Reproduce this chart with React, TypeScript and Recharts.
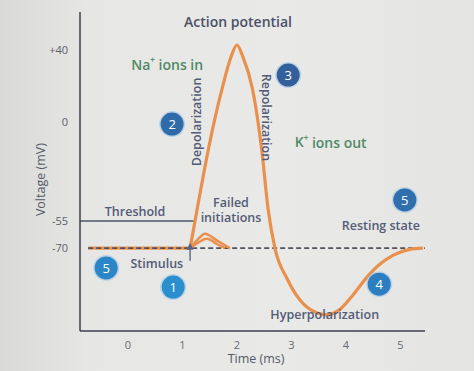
import { LineChart, Line, XAxis, YAxis, ReferenceDot } from "recharts";

// membrane voltage (mV) over time (ms)
const restTimes = [-0.73, 1.14];
const restVolts = [-70, -70];

const spikeTimes = [1.14, 1.32, 1.47, 1.74, 1.89, 2.0, 2.11, 2.28, 2.46, 2.57, 2.7, 2.92, 3.16, 3.47, 3.65, 3.89, 4.13, 4.39, 4.62, 4.86, 5.17, 5.41];
const spikeVolts = [-70, -40, -16, 20, 36, 42.7, 36, 19, -17, -48, -70.5, -87, -99, -106, -107, -104, -96, -86, -79, -74, -70.7, -70];

const failOuterTimes = [1.14, 1.27, 1.41, 1.65, 1.87];
const failOuterVolts = [-70, -65.6, -62, -66.2, -70];
const failInnerTimes = [1.14, 1.27, 1.45, 1.63, 1.78];
const failInnerVolts = [-70, -67.3, -64.8, -67.7, -70];

const thresholdTimes = [-0.88, 1.23];
const thresholdVolts = [-55, -55];

const restingTimes = [-0.73, 5.45];
const restingVolts = [-70, -70];

const xTicks = [0, 1, 2, 3, 4, 5];
const yTicks = [40, 0, -55, -70];
const yTickLabels = ["+40", "0", "-55", "-70"];

const zip = (ts: number[], vs: number[]) => ts.map((t, i) => ({ t, v: vs[i] }));

type Note = { text: string; t: number; v: number; kind: string; sup?: string; after?: string };
const notes: Note[] = [
  { text: "Action potential", t: 2.02, v: 55.5, kind: "title" },
  { text: "Na", sup: "+", after: " ions in", t: 0.72, v: 32, kind: "ion" },
  { text: "K", sup: "+", after: " ions out", t: 3.72, v: -11, kind: "ion" },
  { text: "Depolarization", t: 1.25, v: 0, kind: "up" },
  { text: "Repolarization", t: 2.55, v: 2.5, kind: "down" },
  { text: "Threshold", t: 0.13, v: -49.5, kind: "label" },
  { text: "Failed", t: 1.89, v: -44.5, kind: "label" },
  { text: "initiations", t: 1.89, v: -53, kind: "label" },
  { text: "Resting state", t: 4.64, v: -57.5, kind: "label" },
  { text: "Stimulus", t: 0.53, v: -78.5, kind: "label" },
  { text: "Hyperpolarization", t: 3.61, v: -106.6, kind: "label" },
  { text: "Voltage (mV)", t: -1.61, v: -32, kind: "axisY" },
  { text: "Time (ms)", t: 2.35, v: -131.5, kind: "axisX" },
];

const steps = [
  { n: "2", t: 0.81, v: -1.2, fill: "#2f6aa9" },
  { n: "3", t: 2.94, v: 26, fill: "#33609b" },
  { n: "5", t: -0.4, v: -81, fill: "#2a86c7" },
  { n: "1", t: 0.83, v: -91.6, fill: "#2b8ecf" },
  { n: "5", t: 5.08, v: -43.3, fill: "#2f6fae" },
  { n: "4", t: 4.61, v: -90, fill: "#2c7ec0" },
];

const ORANGE = "#e8904c";
const SLATE = "#535b77";
const GREEN = "#4f8a68";
const FONT = "'Open Sans', sans-serif";

function NoteShape(note: Note) {
  return (props: any) => {
    const { cx, cy } = props;
    let fill = SLATE;
    let size = 12.5;
    let weight = 600;
    let transform: string | undefined;
    if (note.kind === "title") { fill = "#4a5068"; size = 14; }
    if (note.kind === "ion") { fill = GREEN; size = 14; }
    if (note.kind === "up") transform = `rotate(-90 ${cx} ${cy})`;
    if (note.kind === "down") transform = `rotate(90 ${cx} ${cy})`;
    if (note.kind === "axisY") { fill = "#555a66"; size = 12.5; weight = 400; transform = `rotate(-90 ${cx} ${cy})`; }
    if (note.kind === "axisX") { fill = "#555a66"; size = 12.5; weight = 400; }
    return (
      <text x={cx} y={cy} textAnchor="middle" dominantBaseline="central" fill={fill}
        fontSize={size} fontWeight={weight} fontFamily={FONT} transform={transform}>
        {note.text}
        {note.sup && <tspan fontSize={8} dy={-5}>{note.sup}</tspan>}
        {note.after && <tspan dy={note.sup ? 5 : 0}>{note.after}</tspan>}
      </text>
    );
  };
}

function StepShape(fill: string, n: string) {
  return (props: any) => {
    const { cx, cy } = props;
    return (
      <g>
        <circle cx={cx} cy={cy} r={13} fill="#9ec4e2" opacity={0.6} />
        <circle cx={cx} cy={cy} r={11.5} fill={fill} />
        <text x={cx} y={cy} textAnchor="middle" dominantBaseline="central" fill="#ffffff"
          fontSize={13} fontFamily={FONT}>{n}</text>
      </g>
    );
  };
}

function ArrowShape(props: any) {
  const { cx, cy } = props;
  return (
    <g stroke="#5a6485" fill="#5a6485">
      <line x1={cx} y1={cy} x2={cx} y2={cy - 14} strokeWidth={1.4} />
      <path d={`M${cx - 3.5} ${cy - 11} L${cx} ${cy - 18} L${cx + 3.5} ${cy - 11} Z`} stroke="none" />
    </g>
  );
}

export default function App() {
  return (
    <div style={{
      position: "fixed", left: 0, top: 0, width: 474, height: 371,
      background: "linear-gradient(90deg, #d9d9d7 0%, #e6e6e4 18%, #e9e9e7 60%, #e4e4e2 100%)",
    }}>
      <LineChart width={474} height={371} margin={{ top: 12, right: 49, bottom: 10, left: 50 }}>
        <XAxis type="number" dataKey="t" domain={[-0.88, 5.45]} ticks={xTicks}
          allowDataOverflow tickLine={false} axisLine={{ stroke: "#3b3e4c", strokeWidth: 1.5 }}
          tick={{ fill: "#666a74", fontSize: 11, fontFamily: FONT }} tickMargin={4} height={30} />
        <YAxis type="number" dataKey="v" domain={[-116, 61]} ticks={yTicks}
          allowDataOverflow tickLine={false} axisLine={{ stroke: "#3b3e4c", strokeWidth: 1.5 }}
          tickFormatter={(v: number) => yTickLabels[yTicks.indexOf(v)] ?? String(v)}
          tick={{ fill: "#5c606a", fontSize: 11, fontFamily: FONT }} tickMargin={6} width={30} />

        <Line data={zip(thresholdTimes, thresholdVolts)} dataKey="v" stroke="#4d5466" strokeWidth={1.5}
          dot={false} isAnimationActive={false} />
        <Line data={zip(restTimes, restVolts)} dataKey="v" stroke={ORANGE} strokeWidth={3.2}
          dot={false} isAnimationActive={false} />
        <Line data={zip(restingTimes, restingVolts)} dataKey="v" stroke="#50535e" strokeWidth={1.6}
          strokeDasharray="5 3" dot={false} isAnimationActive={false} />
        <Line data={zip(failOuterTimes, failOuterVolts)} dataKey="v" type="monotone" stroke={ORANGE}
          strokeWidth={2.6} dot={false} isAnimationActive={false} />
        <Line data={zip(failInnerTimes, failInnerVolts)} dataKey="v" type="monotone" stroke={ORANGE}
          strokeWidth={2.4} dot={false} isAnimationActive={false} />
        <Line data={zip(spikeTimes, spikeVolts)} dataKey="v" type="monotone" stroke={ORANGE}
          strokeWidth={3.2} dot={false} isAnimationActive={false} />

        <ReferenceDot x={1.14} y={-77} r={0} ifOverflow="visible" shape={ArrowShape} />
        {notes.map((n, i) => (
          <ReferenceDot key={"n" + i} x={n.t} y={n.v} r={0} ifOverflow="visible" shape={NoteShape(n)} />
        ))}
        {steps.map((s, i) => (
          <ReferenceDot key={"s" + i} x={s.t} y={s.v} r={0} ifOverflow="visible" shape={StepShape(s.fill, s.n)} />
        ))}
      </LineChart>
    </div>
  );
}
